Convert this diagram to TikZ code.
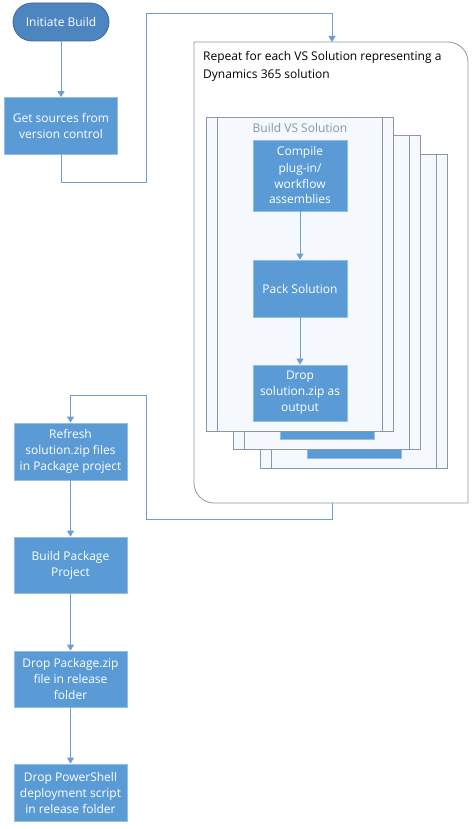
\documentclass[tikz,border=0pt]{standalone}
\usepackage{fontspec}
\setmainfont{Open Sans}
\usetikzlibrary{arrows.meta}

\definecolor{boxblue}{HTML}{5B9BD5}
\definecolor{startblue}{HTML}{4C85C0}
\definecolor{linkblue}{HTML}{6C9ED3}
\definecolor{framegray}{HTML}{8A97A6}
\definecolor{pagefill}{HTML}{F5F8FC}
\definecolor{captiongray}{HTML}{8497B0}

\tikzset{
  task/.style={draw=boxblue!65!white, line width=0.8pt, fill=boxblue, text=white,
    font=\fontsize{12}{16}\selectfont, align=center, inner sep=1pt,
    minimum width=113pt, minimum height=57pt},
  subtask/.style={task, minimum width=94pt},
  start/.style={draw=startblue!80!black, line width=0.8pt, fill=startblue, text=white,
    font=\fontsize{12}{16}\selectfont, rounded corners=19pt,
    minimum width=96pt, minimum height=38pt},
  link/.style={draw=linkblue, line width=0.9pt, -{Triangle[width=7pt,length=6pt]}},
  frame/.style={draw=framegray, line width=0.8pt}
}

\begin{document}
\begin{tikzpicture}[x=1pt,y=-1pt]
\useasboundingbox (0,0) rectangle (474,829);

% loop container
\draw[frame, fill=white] (194,42) -- (330,42)
  {[rounded corners=20pt] -- (468,42) -- (468,200)} -- (468,503) -- (330,503)
  {[rounded corners=20pt] -- (194,503) -- (194,300)} -- cycle;
\node[anchor=west, align=left, inner sep=0pt, font=\fontsize{12}{18}\selectfont]
  (looptext) at (203,66) {Repeat for each VS Solution representing a\\Dynamics 365 solution};
\coordinate (looptop) at (332,42);
\coordinate (loopbot) at (332,503);

% stacked pages, back to front (only the front one shows its texts)
\foreach \dx/\dy in {54/37, 27/18, 0/0} {
\scope[shift={(\dx,\dy)}]
\draw[frame, fill=pagefill] (206,117) rectangle (393,431);
\draw[frame] (217,117) -- (217,431) (382,117) -- (382,431);
\ifnum\dx=0
  \node[text=captiongray, font=\fontsize{12}{16}\selectfont] (caption) at (300,128) {Build VS Solution};
\fi
\node[subtask, minimum height=71pt] (compile) at (300,175.5)
  {\ifnum\dx=0 Compile\\plug-in/\\workflow\\assemblies\fi};
\node[subtask] (pack) at (300,288.5) {\ifnum\dx=0 Pack Solution\fi};
\node[subtask, minimum height=56pt] (drop) at (300,393)
  {\ifnum\dx=0 Drop\\solution.zip as\\output\fi};
\draw[link] (compile) -- (pack);
\draw[link] (pack) -- (drop);
\endscope
}

% left column
\node[start] (init) at (61,22) {Initiate Build};
\node[task] (sources) at (61,126) {Get sources from\\version control};
\node[task] (refresh) at (70.5,451.5) {Refresh\\solution.zip files\\in Package project};
\node[task, minimum height=56pt] (buildpkg) at (70.5,565) {Build Package\\Project};
\node[task, minimum height=56pt] (droppkg) at (70.5,679) {Drop Package.zip\\file in release\\folder};
\node[task] (dropps) at (70.5,792.5) {Drop PowerShell\\deployment script\\in release folder};

\coordinate (jog1) at (146,182);
\coordinate (jog2) at (146,13);
\coordinate (jog3) at (146,519);
\coordinate (jog4) at (146,395);

% connectors
\draw[link] (init) -- (sources);
\draw[link] (sources.south) |- (jog1) -- (jog2) -| (looptop);
\draw[link] (loopbot) |- (jog3) -- (jog4) -| (refresh.north);
\draw[link] (refresh) -- (buildpkg);
\draw[link] (buildpkg) -- (droppkg);
\draw[link] (droppkg) -- (dropps);
\end{tikzpicture}
\end{document}
